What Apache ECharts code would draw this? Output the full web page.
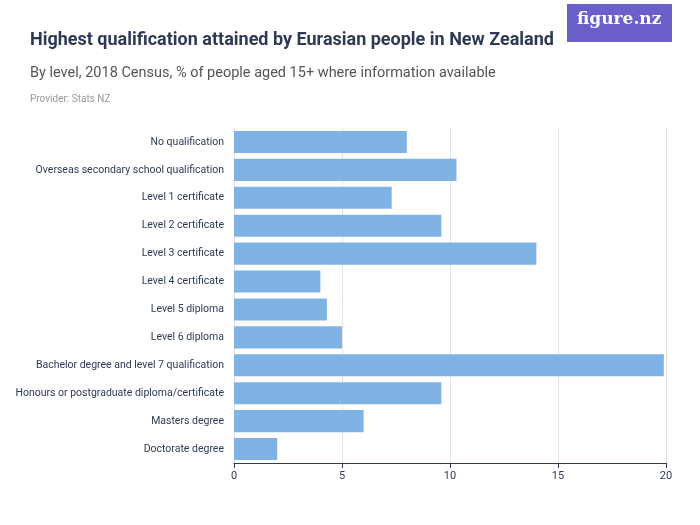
<!DOCTYPE html>
<html><head><meta charset="utf-8">
<script src="https://cdn.jsdelivr.net/npm/echarts@6/dist/echarts.min.js"></script>
<style>html,body{margin:0;padding:0;background:#fff}#c{width:700px;height:525px}</style>
</head><body><div id="c"></div>
<script>
const categories = ["No qualification","Overseas secondary school qualification","Level 1 certificate","Level 2 certificate","Level 3 certificate","Level 4 certificate","Level 5 diploma","Level 6 diploma","Bachelor degree and level 7 qualification","Honours or postgraduate diploma/certificate","Masters degree","Doctorate degree"];
const values = [8.0,10.3,7.3,9.6,14.0,4.0,4.3,5.0,19.9,9.6,6.0,2.0];
const xTicks = [0,5,10,15,20];
const F = 'Roboto,"Noto Sans",sans-serif';
const chart = echarts.init(document.getElementById('c'));
chart.setOption({
  animation:false,
  textStyle:{fontFamily:F},
  title:[
    {text:'Highest qualification attained by Eurasian people in New Zealand',left:25,top:26,textStyle:{fontFamily:F,fontSize:18,fontWeight:'bold',color:'#2e3a55',letterSpacing:-0.4}},
    {text:'By level, 2018 Census, % of people aged 15+ where information available',left:25,top:61,textStyle:{fontFamily:F,fontSize:14.5,fontWeight:'normal',color:'#555',letterSpacing:-0.3}},
    {text:'Provider: Stats NZ',left:25,top:89,textStyle:{fontFamily:F,fontSize:10,fontWeight:'normal',color:'#999'}}
  ],
  graphic:[
    {type:'rect',left:567,top:4,shape:{width:105,height:38},style:{fill:'#6b5fc9'}},
    {type:'text',left:577,top:11,style:{text:'figure.nz',fill:'#fff',font:'bold 17px "DejaVu Serif",serif',letterSpacing:-0.5}}
  ],
  grid:{left:234,right:34,top:128,bottom:62,containLabel:false,outerBoundsMode:'none'},
  xAxis:{type:'value',min:0,max:20,interval:5,
    axisLine:{show:true,lineStyle:{color:'#2e3a55'}},axisTick:{show:true,length:5,lineStyle:{color:'#2e3a55'}},
    axisLabel:{color:'#2e3a55',fontSize:11,fontFamily:F,formatter:v=>xTicks.includes(v)?String(v):''},
    splitLine:{show:true,lineStyle:{color:'#e3e3e3'}}},
  yAxis:{type:'category',data:categories,inverse:true,
    axisLine:{show:false},axisTick:{show:false},
    axisLabel:{color:'#2e3a55',fontSize:10.5,fontFamily:F,margin:10,letterSpacing:-0.3}},
  series:[{type:'bar',data:values,barCategoryGap:'21%',itemStyle:{color:'#7fb3e6'}}]
});
</script></body></html>
